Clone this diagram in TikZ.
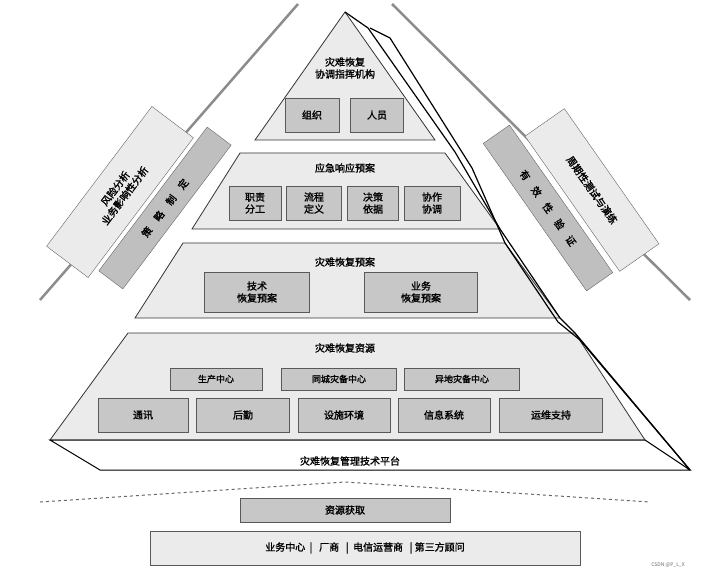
\documentclass[tikz,border=0pt]{standalone}
\usepackage{fontspec}
\setmainfont{Noto Sans CJK SC}[AutoFakeBold=1.5]
\begin{document}
\begin{tikzpicture}[x=1pt,y=-1pt,
  tier/.style={draw=black!80,fill=black!8,line width=0.8pt},
  cell/.style={draw=black!65,fill=black!22,minimum height=34pt,font=\bfseries,align=center,inner sep=1pt},
  sbox/.style={draw=black!65,fill=black!22,minimum height=22pt,font=\small\bfseries,inner sep=1pt},
  ttl/.style={font=\bfseries},
  side/.style={draw=black!60,fill=black!8,align=center,font=\bfseries},
  sideg/.style={draw=black!60,fill=black!25,font=\bfseries}]
\useasboundingbox (0,0) rectangle (710,580);
% outer grey edges
\draw[black!45,line width=2.5pt] (298,4) -- (40,300);
\draw[black!45,line width=2.5pt] (392,4) -- (690,300);
% tier 1
\draw[tier] (345,12) -- (435,140) -- (255,140) -- cycle;
\node[ttl,align=center] (t1) at (345,68) {灾难恢复\\协调指挥机构};
\node[cell,minimum width=54pt] (zz) at (312,115) {组织};
\node[cell,minimum width=53pt] (ry) at (377,115) {人员};
% tier 2
\draw[tier] (240,153) -- (445,153) -- (500,229) -- (192,229) -- cycle;
\node[ttl] (t2) at (345,168) {应急响应预案};
\node[cell,minimum width=52pt] (a1) at (255,203) {职责\\分工};
\node[cell,minimum width=55pt] (a2) at (314,203) {流程\\定义};
\node[cell,minimum width=51pt] (a3) at (373,203) {决策\\依据};
\node[cell,minimum width=56pt] (a4) at (432,203) {协作\\协调};
% tier 3
\draw[tier] (183,243) -- (505,243) -- (560,318) -- (135,318) -- cycle;
\node[ttl] (t3) at (345,262) {灾难恢复预案};
\node[cell,minimum width=105pt,minimum height=40pt] (b1) at (257,292) {技术\\恢复预案};
\node[cell,minimum width=113pt,minimum height=40pt] (b2) at (421,292) {业务\\恢复预案};
% tier 4
\draw[tier] (128,333) -- (575,333) -- (645,440) -- (50,440) -- cycle;
\draw[line width=1pt,fill=white] (50,440) -- (645,440) -- (690,470) -- (100,470) -- cycle;
\node[ttl] (t4) at (345,348) {灾难恢复资源};
\node[sbox,minimum width=92pt] (c1) at (216,379) {生产中心};
\node[sbox,minimum width=115pt] (c2) at (339,379) {同城灾备中心};
\node[sbox,minimum width=115pt] (c3) at (462,379) {异地灾备中心};
\node[cell] (d1) [minimum width=90pt] at (143,415) {通讯};
\node[cell] (d2) [minimum width=93pt] at (243,415) {后勤};
\node[cell] (d3) [minimum width=92pt] at (344,415) {设施环境};
\node[cell] (d4) [minimum width=92pt] at (444,415) {信息系统};
\node[cell] (d5) [minimum width=103pt] at (551,415) {运维支持};
\node[ttl] (pf) at (350,461) {灾难恢复管理技术平台};
% right black double lines
\draw[line width=1.2pt] (345,12) -- (368,28) -- (455,152) -- (500,229) -- (560,318) -- (575,333) -- (690,470);
\draw[line width=1.2pt] (370,28) -- (390,38) -- (472,168) -- (505,243) -- (558,322) -- (580,340) -- (690,470);
% side boxes
\node[side,minimum width=175pt,minimum height=52pt,rotate=53] (s1) at (120,192) {风险分析\\业务影响性分析};
\node[sideg,minimum width=180pt,minimum height=30pt,rotate=53] (s2) at (165,208) {策\quad 略\quad 制\quad 定};
\node[side,minimum width=165pt,minimum height=48pt,rotate=-55] (s3) at (592,190) {周期性测试与演练};
\node[sideg,minimum width=180pt,minimum height=32pt,rotate=-55] (s4) at (548,208) {有\quad 效\quad 性\quad 验\quad 证};
% resource acquisition
\draw[black!60,dashed,line width=1pt] (40,502) -- (345,482) -- (650,502);
\node[draw=black!65,fill=black!22,minimum width=210pt,minimum height=24pt,font=\bfseries] (ra) at (345,510) {资源获取};
\node[draw=black!65,fill=black!8,minimum width=430pt,minimum height=34pt,font=\bfseries] (bt) at (365,548) {业务中心\ \ |\ \ \ 厂商\ \ \ |\ \ 电信运营商\ \ \ |\ 第三方顾问};
\node[font=\tiny,text=black!60] (wm) at (668,565) {CSDN @P\_L\_X};
\end{tikzpicture}
\end{document}
